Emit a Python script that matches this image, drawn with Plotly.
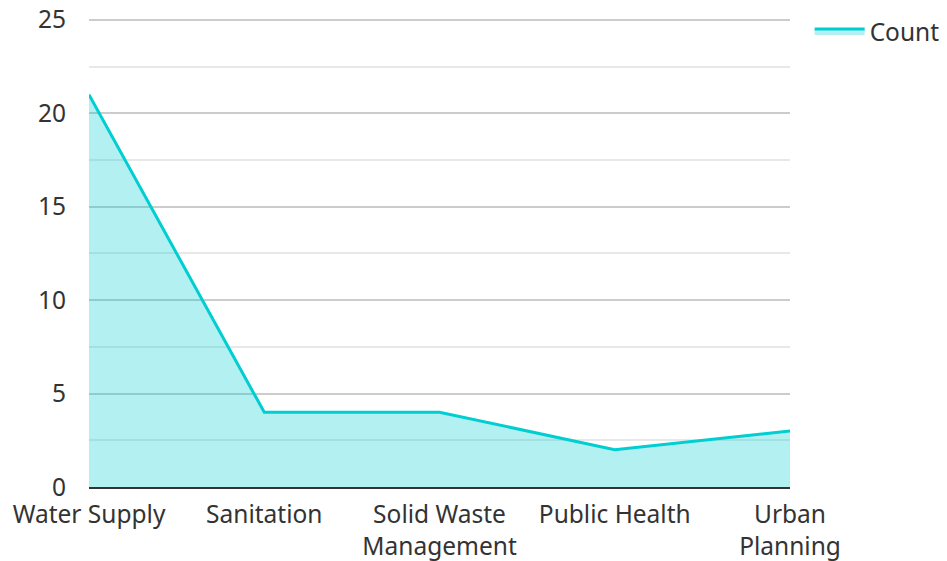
import plotly.graph_objects as go

categories = ["Water Supply", "Sanitation", "Solid Waste<br>Management", "Public Health", "Urban<br>Planning"]
counts = [21, 4, 4, 2, 3]
series_name = "Count"
y_ticks = [0, 5, 10, 15, 20, 25]

x_pos = list(range(len(categories)))

fig = go.Figure()
fig.add_trace(go.Scatter(
    x=x_pos, y=counts, name=series_name, mode="lines",
    line=dict(color="#00CED1", width=3),
    fill="tozeroy", fillcolor="rgba(0,206,209,0.3)",
))

font = "Noto Sans, Open Sans, sans-serif"
fig.update_layout(
    width=939, height=553,
    margin=dict(l=81, r=157, t=10, b=74, autoexpand=False),
    paper_bgcolor="white", plot_bgcolor="white",
    font=dict(family=font, size=24.5, color="#333"),
    showlegend=True,
    legend=dict(x=1.028, y=1.02, xanchor="left", yanchor="top",
                font=dict(size=24.5, color="#333"), itemwidth=50,
                bgcolor="rgba(0,0,0,0)"),
    xaxis=dict(
        range=[0, 4], tickmode="array", tickvals=x_pos, ticktext=categories,
        showgrid=False, zeroline=False, automargin=False,
        showline=True, linecolor="#333", linewidth=2,
        ticks="", ticklabelstandoff=5,
        tickfont=dict(size=24.5, color="#333"),
    ),
    yaxis=dict(
        range=[0, 25.1], tickmode="array", tickvals=y_ticks,
        showgrid=True, gridcolor="#cccccc", gridwidth=1.5,
        zeroline=False, showline=False, automargin=False,
        ticks="", ticklabelstandoff=22, ticklabeloverflow="allow",
        tickfont=dict(size=24.5, color="#333"),
        minor=dict(dtick=2.5, tick0=0, showgrid=True, gridcolor="#e8e8e8", gridwidth=1.5),
    ),
)

fig.write_html("out.html")
